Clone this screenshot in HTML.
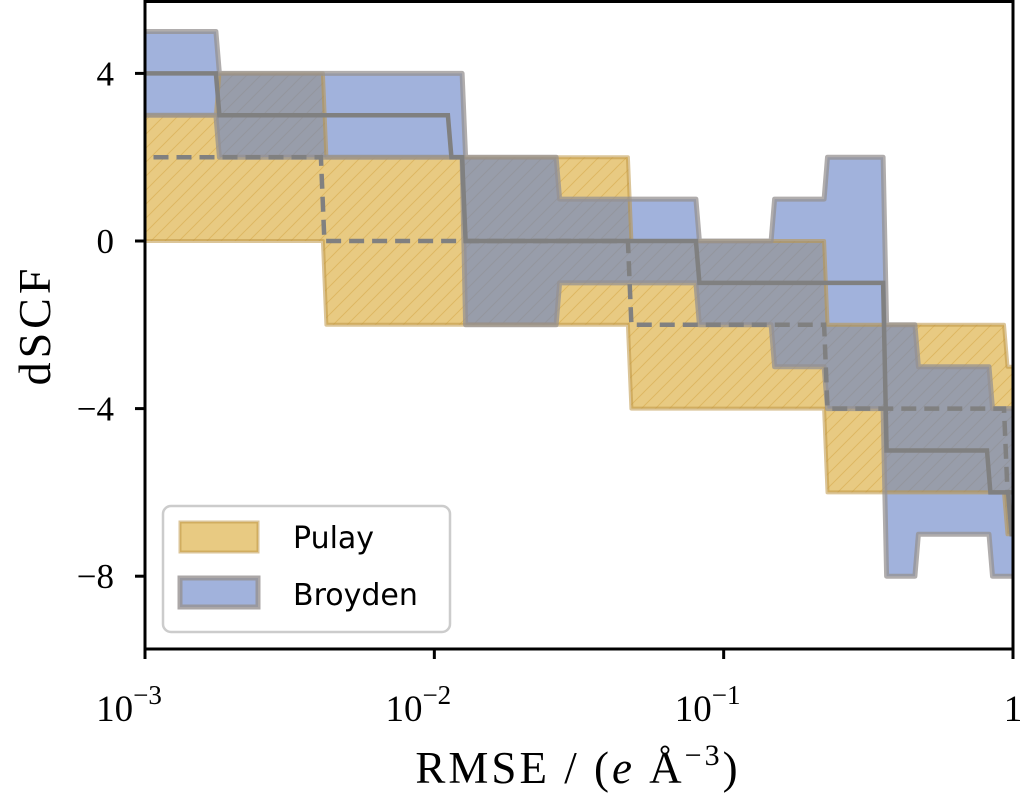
<!DOCTYPE html>
<html><head><meta charset="utf-8"><style>
html,body{margin:0;padding:0;background:#fff;width:1020px;height:796px;overflow:hidden}
</style></head><body>
<svg id="chart" width="1020" height="796" viewBox="0 0 1020 796" style="position:absolute;left:0;top:0">
<defs>
<pattern id="hatch" patternUnits="userSpaceOnUse" width="14" height="14">
<path d="M-2,16 L16,-2 M-2,2 L2,-2 M12,16 L16,12" stroke="rgba(200,150,40,0.35)" stroke-width="1"/>
</pattern>
<clipPath id="plotclip"><rect x="145" y="2" width="868" height="647"/></clipPath>
</defs>
<g id="plot" clip-path="url(#plotclip)"></g>
<g id="axes"></g>
</svg>
<script>
const xTickVals = [-3, -2, -1, 0];
const xTickLabels = ["10", "10", "10", "1"];
const xTickExps = ["\u22123", "\u22122", "\u22121", ""];
const yTickVals = [4, 0, -4, -8];
const yTickLabels = ["4", "0", "\u22124", "\u22128"];

const pulayBreaks = [-3, -2.755, -2.385, -1.331, -0.653, -0.031, 0];
const pulayUpper = [3, 4, 2, 0, -2, -3];
const pulayLower = [0, 0, -2, -4, -6, -7];
const pulayMedBreaks = [-3, -2.392, -1.331, -0.653, -0.031, 0];
const pulayMedian = [2, 0, -2, -4, -6];

const broydenBreaks = [-3, -2.755, -1.904, -1.579, -1.096, -0.836, -0.653, -0.449, -0.339, -0.083, 0];
const broydenUpper = [5, 4, 2, 1, 0, 1, 2, -2, -3, -4];
const broydenLower = [3, 2, -2, -1, -2, -3, -4, -8, -7, -8];
const broydenMedBreaks = [-3, -2.755, -1.953, -1.904, -1.096, -0.449, -0.090, -0.017, 0];
const broydenMedian = [4, 3, 2, 0, -1, -5, -6, -7];

const X0 = 145, X1 = 1013, Y0 = 2, Y1 = 649;
const xMin = -3, xMax = 0;
function sx(l){ return X0 + (l - xMin) / (xMax - xMin) * (X1 - X0); }
function sy(v){ return 241 - v * 41.9; }
const NS = "http://www.w3.org/2000/svg";
const plot = document.getElementById('plot');
const axes = document.getElementById('axes');
const D = 0.012;
function stepPts(breaks, vals){
  const p = [];
  for (let i = 0; i < vals.length; i++){
    const a = i === 0 ? breaks[0] - 0.05 : breaks[i] + D;
    const b = i === vals.length - 1 ? breaks[i+1] + 0.05 : breaks[i+1];
    p.push([sx(a), sy(vals[i])], [sx(b), sy(vals[i])]);
  }
  return p;
}
function band(breaks, up, lo){
  const u = stepPts(breaks, up), l = stepPts(breaks, lo).reverse();
  return u.concat(l).map(q => q[0].toFixed(1) + ',' + q[1].toFixed(1)).join(' ');
}
function line(breaks, vals){
  return stepPts(breaks, vals).map(q => q[0].toFixed(1) + ',' + q[1].toFixed(1)).join(' ');
}
function mk(tag, attrs, parent){
  const e = document.createElementNS(NS, tag);
  for (const k in attrs) e.setAttribute(k, attrs[k]);
  parent.appendChild(e); return e;
}
let e;
e = mk('polygon', {points: band(pulayBreaks, pulayUpper, pulayLower), fill: '#e8ca82'}, plot);


e = mk('polygon', {points: band(pulayBreaks, pulayUpper, pulayLower), fill: 'url(#hatch)'}, plot);


e = mk('polygon', {points: band(broydenBreaks, broydenUpper, broydenLower), fill: 'rgba(98,127,197,0.6)'}, plot);


e = mk('polygon', {points: band(pulayBreaks, pulayUpper, pulayLower), fill: 'none', stroke: 'rgba(190,150,70,0.55)', 'stroke-width': 4, 'stroke-linejoin': 'round'}, plot);


e = mk('polygon', {points: band(broydenBreaks, broydenUpper, broydenLower), fill: 'none', stroke: 'rgba(150,145,145,0.75)', 'stroke-width': 5, 'stroke-linejoin': 'round'}, plot);


e = mk('polyline', {points: line(pulayMedBreaks, pulayMedian), fill: 'none', stroke: '#808080', 'stroke-width': 4.5, 'stroke-dasharray': '15,8'}, plot);


e = mk('polyline', {points: line(broydenMedBreaks, broydenMedian), fill: 'none', stroke: '#808080', 'stroke-width': 4.5}, plot);



e = mk('rect', {x: X0, y: 1.5, width: X1 - X0, height: Y1 - 1.5, fill: 'none', stroke: '#000', 'stroke-width': 3}, axes);


xTickVals.forEach((v, i) => {
  const x = sx(v);
  let t = mk('line', {x1: x, x2: x, y1: Y1, y2: Y1 + 10, stroke: '#000', 'stroke-width': 3}, axes);
  
  
  const tx = mk('text', {x: x, y: 721, 'font-size': 37, 'text-anchor': 'middle', 'font-family': 'Liberation Serif, serif'}, axes);
  
  
  tx.textContent = xTickLabels[i];
  if (xTickExps[i]) {
    tx.setAttribute('x', x - 16);
    const ts = mk('tspan', {'font-size': 27, dy: -17}, tx);
    ts.textContent = xTickExps[i];
  }
});
yTickVals.forEach((v, i) => {
  const y = sy(v);
  let t = mk('line', {x1: X0 - 10, x2: X0, y1: y, y2: y, stroke: '#000', 'stroke-width': 3}, axes);
  
  
  const tx = mk('text', {x: 114, y: y + 12, 'font-size': 35, 'text-anchor': 'end', 'font-family': 'Liberation Serif, serif'}, axes);
  
  
  tx.textContent = yTickLabels[i];
});
</script>
<svg width="1020" height="796" style="position:absolute;left:0;top:0">
<text x="50" y="325" font-size="46" letter-spacing="4" text-anchor="middle" transform="rotate(-90 50 325)" font-family="Liberation Serif, serif">dSCF</text>
<text x="578" y="783" font-size="45" letter-spacing="3" text-anchor="middle" font-family="Liberation Serif, serif">RMSE / (<tspan font-style="italic">e</tspan> Å<tspan font-size="30" dy="-18">−3</tspan><tspan dy="18">)</tspan></text>
<g>
<rect x="163" y="506" width="287" height="126" rx="8" fill="rgba(255,255,255,0.8)" stroke="#ccc" stroke-width="2.5"/>
<rect x="180" y="522" width="78" height="30" fill="#e8ca82" stroke="rgba(190,150,70,0.55)" stroke-width="3"/>
<text x="293" y="548" font-size="30" font-family="DejaVu Sans, sans-serif">Pulay</text>
<rect x="180" y="578" width="78" height="29" fill="#a1b2dc" stroke="rgba(150,145,145,0.8)" stroke-width="5"/>
<text x="293" y="605" font-size="30" font-family="DejaVu Sans, sans-serif">Broyden</text>
</g>
</svg>
</body></html>
